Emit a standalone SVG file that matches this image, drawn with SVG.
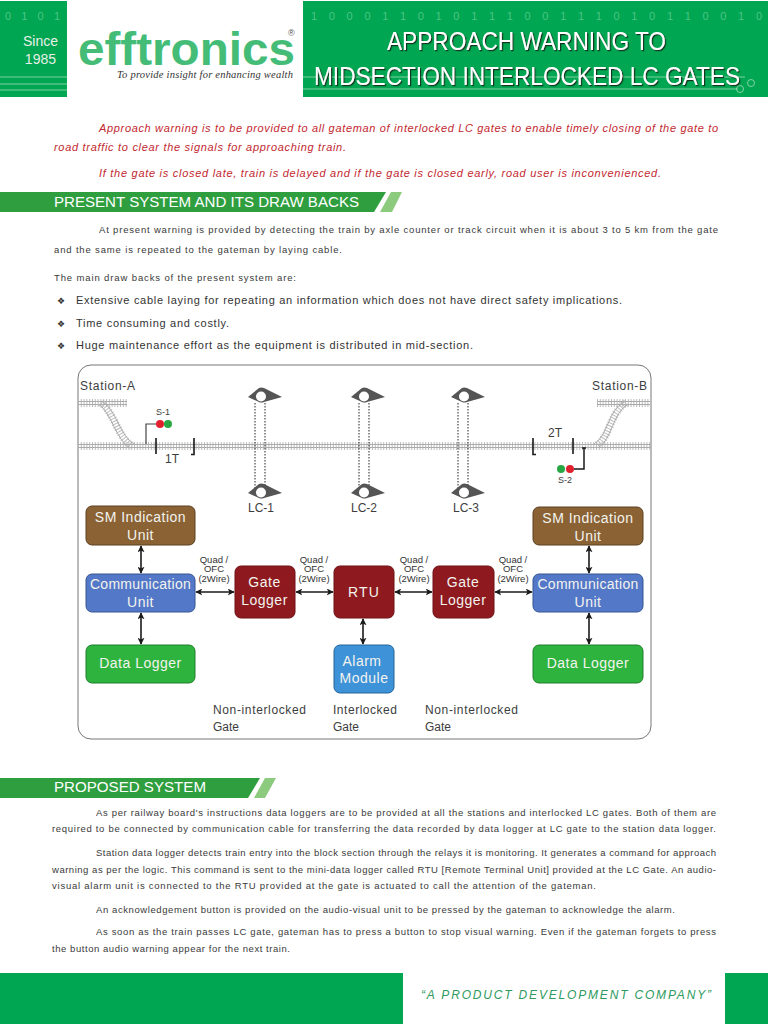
<svg xmlns="http://www.w3.org/2000/svg" width="768" height="1024" viewBox="0 0 768 1024">
<style>
text{font-family:"Liberation Sans",Arial,sans-serif}
.hd{fill:#00a651}
.bin{fill:#4cc486;font-size:11px}
.hl{stroke:#9fdcb8;stroke-width:.8;fill:none}
.title{fill:#fff;font-size:26px;filter:url(#sh)}
.red{fill:#c3272f;font-size:11px;font-style:italic}
.body{fill:#3a3a3a;font-size:9.5px}
.bul{fill:#333;font-size:11px}
.sec{fill:#fff;font-size:14px}
.bar{fill:#2f9e3f}
.stripe{fill:#8ccb7e}
.ties{stroke:#bcbcbc;stroke-width:8;stroke-dasharray:1 1.8;fill:none}
.rail{stroke:#ababab;stroke-width:1;fill:none}
.blk{stroke:#1a1a1a;stroke-width:1.6;fill:none}
.dot{stroke:#222;stroke-width:1;stroke-dasharray:1.5 1.5;fill:none}
.lbl{fill:#3d3d3d;font-size:12px}
.sm{fill:#3d3d3d;font-size:9px;text-anchor:middle}
.box{stroke-width:1}
.nt{fill:#f3f3ee;font-size:14px;text-anchor:middle;letter-spacing:.5px}
.q{fill:#333;font-size:9.5px;text-anchor:middle}
.conn{stroke:#1a1a1a;stroke-width:1.6;fill:none;marker-start:url(#ah);marker-end:url(#ah)}
.mark{fill:#555}
</style>
<defs>
<filter id="sh" x="-5%" y="-40%" width="110%" height="180%"><feDropShadow dx="1.2" dy="1.2" stdDeviation=".3" flood-color="#12351f"/></filter>
<pattern id="dots" width="2" height="2" patternUnits="userSpaceOnUse"><rect width="2" height="2" fill="#bfe9cf"/><circle cx="1" cy="1" r=".95" fill="#0fa850"/></pattern>
<marker id="ah" viewBox="0 0 10 10" refX="9" refY="5" markerWidth="7" markerHeight="7" markerUnits="userSpaceOnUse" orient="auto-start-reverse"><path d="M0 0L10 5L0 10L2.500 5Z" fill="#1a1a1a"/></marker>
<g id="lcm"><path class="mark" d="M-13 0L-2 -9Q0 -10 3 -9L21 0L3 5Q0 6 -2 5Z"/><circle cx="0" cy="-0.5" r="5" fill="#fff"/></g>
</defs>
<rect width="768" height="1024" fill="#fff"/>

<g id="header">
<rect class="hd" x="0" y="1" width="67" height="96"/>
<rect class="hd" x="303" y="1" width="465" height="96"/>
<text class="bin" x="5" y="20" textLength="55">0 1 0 1</text>
<text class="bin" x="311" y="20" textLength="451">1 0 0 0 1 1 0 1 0 1 1 1 0 0 1 1 1 0 1 0 1 1 0 0 1 0</text>
<path class="hl" d="M0 77H67M0 84H67M0 90H67M303 77H745M303 89H738"/>
<circle class="hl" cx="740" cy="89" r="3.500"/><circle class="hl" cx="751" cy="83" r="3.500"/>
<text x="58" y="46" fill="#e8efe8" font-size="14" text-anchor="end">Since</text>
<text x="56" y="64" fill="#e8efe8" font-size="14" text-anchor="end">1985</text>
<text x="78" y="65" font-size="46" font-weight="bold" fill="url(#dots)" textLength="217" lengthAdjust="spacingAndGlyphs">efftronics</text>
<text x="288" y="36" font-size="9" fill="#555">®</text>
<text x="117" y="78" font-size="10.500" fill="#333" font-style="italic" style="font-family:'Liberation Serif',serif" textLength="176">To provide insight for enhancing wealth</text>
<text class="title" x="387" y="50" textLength="279" lengthAdjust="spacingAndGlyphs">APPROACH WARNING TO</text>
<text class="title" x="314" y="85" textLength="426" lengthAdjust="spacingAndGlyphs">MIDSECTION INTERLOCKED LC GATES</text>
</g>

<g id="intro">
<text class="red" x="99" y="132" textLength="619">Approach warning is to be provided to all gateman of interlocked LC gates to enable timely closing of the gate to</text>
<text class="red" x="54" y="151" textLength="292">road traffic to clear the signals for approaching train.</text>
<text class="red" x="99" y="177" textLength="562">If the gate is closed late, train is delayed and if the gate is closed early, road user is inconvenienced.</text>
</g>

<g id="present-heading">
<path class="bar" d="M0 192H386L374 212H0Z"/>
<path class="stripe" d="M391 192H402L392 212H380Z"/>
<text class="sec" x="54" y="207" textLength="305" lengthAdjust="spacingAndGlyphs">PRESENT SYSTEM AND ITS DRAW BACKS</text>
</g>

<g id="present-text">
<text class="body" x="99" y="233" textLength="619">At present warning is provided by detecting the train by axle counter or track circuit when it is about 3 to 5 km from the gate</text>
<text class="body" x="54" y="253" textLength="288">and the same is repeated to the gateman by laying cable.</text>
<text class="body" x="54" y="281" textLength="242">The main draw backs of the present system are:</text>
<text class="bul" x="57" y="304" style="font-family:'DejaVu Sans',sans-serif;font-size:9px">❖</text>
<text class="bul" x="76" y="304" textLength="546">Extensive cable laying for repeating an information which does not have direct safety implications.</text>
<text class="bul" x="57" y="327" style="font-family:'DejaVu Sans',sans-serif;font-size:9px">❖</text>
<text class="bul" x="76" y="327" textLength="153">Time consuming and costly.</text>
<text class="bul" x="57" y="349" style="font-family:'DejaVu Sans',sans-serif;font-size:9px">❖</text>
<text class="bul" x="76" y="349" textLength="397">Huge maintenance effort as the equipment is distributed in mid-section.</text>
</g>

<rect id="frame" x="78" y="365" width="573" height="374" rx="13" fill="#fff" stroke="#777" stroke-width="1"/>

<g id="track">
<path class="ties" d="M78 446H651M78 403H127M597 403H650"/>
<path class="ties" d="M101 403C114 412 118 438 132 446M626 403C610 412 610 438 596 446"/>
<path class="rail" d="M78 444.500H651M78 447.500H651M78 401.500H127M78 404.500H127M597 401.500H650M597 404.500H650"/>
<path class="rail" d="M99 404C112 414 116 440 130 448M103 402C116 410 120 436 134 444M624 402C608 410 608 436 594 444M628 404C612 414 612 440 598 448"/>
<path class="blk" d="M156 438V454M194 438V454.500H191M533 438V454.500H536M573 438V454"/>
<path d="M146 444V424H157" fill="none" stroke="#444" stroke-width="1.200"/>
<path d="M574 469H584V448M582 448H586" fill="none" stroke="#1a1a1a" stroke-width="1.500"/>
<circle cx="160" cy="424" r="4" fill="#e1202e"/><circle cx="168" cy="424" r="4" fill="#27a844"/>
<circle cx="561" cy="469" r="4" fill="#27a844"/><circle cx="570" cy="469" r="4" fill="#e1202e"/>
<text class="lbl" x="80" y="390" textLength="55">Station-A</text>
<text class="lbl" x="592" y="390" textLength="55">Station-B</text>
<text class="sm" x="163" y="415">S-1</text>
<text class="sm" x="565" y="483">S-2</text>
<text class="lbl" x="172" y="463" text-anchor="middle">1T</text>
<text class="lbl" x="555" y="437" text-anchor="middle">2T</text>
</g>

<g id="lc-1"><path class="dot" d="M255 403V488M265 403V488"/><use href="#lcm" x="261" y="397"/><use href="#lcm" x="261" y="493"/><text class="lbl" x="261" y="512" text-anchor="middle">LC-1</text></g>
<g id="lc-2"><path class="dot" d="M359 403V488M369 403V488"/><use href="#lcm" x="364" y="397"/><use href="#lcm" x="364" y="493"/><text class="lbl" x="364" y="512" text-anchor="middle">LC-2</text></g>
<g id="lc-3"><path class="dot" d="M458 403V488M468 403V488"/><use href="#lcm" x="464" y="397"/><use href="#lcm" x="464" y="493"/><text class="lbl" x="466" y="512" text-anchor="middle">LC-3</text></g>

<g id="connectors">
<path class="conn" d="M141 546V573"/>
<path class="conn" d="M141 613V644"/>
<path class="conn" d="M196 592H234"/>
<path class="conn" d="M296 592H333"/>
<path class="conn" d="M363 619V644"/>
<path class="conn" d="M395 592H432"/>
<path class="conn" d="M495 592H532"/>
<path class="conn" d="M589 546V573"/>
<path class="conn" d="M589 613V644"/>
</g>

<g id="sm-left"><rect class="box" x="86" y="506" width="109" height="39" rx="6" fill="#8a6234" stroke="#5c4122"/><text class="nt" x="140.500" y="522">SM Indication</text><text class="nt" x="140.500" y="540">Unit</text></g>
<g id="comm-left"><rect class="box" x="86" y="574" width="109" height="38" rx="6" fill="#5478c8" stroke="#35548f"/><text class="nt" x="140.500" y="589" style="letter-spacing:.3px">Communication</text><text class="nt" x="140.500" y="607">Unit</text></g>
<g id="data-left"><rect class="box" x="86" y="645" width="109" height="38" rx="6" fill="#2fb33f" stroke="#1f7f2c"/><text class="nt" x="140.500" y="668">Data Logger</text></g>
<g id="gate-left"><rect class="box" x="235" y="566" width="60" height="52" rx="6" fill="#8e1a1f" stroke="#6d1115"/><text class="nt" x="264.500" y="587">Gate</text><text class="nt" x="264.500" y="605">Logger</text></g>
<g id="rtu"><rect class="box" x="334" y="566" width="60" height="52" rx="6" fill="#8e1a1f" stroke="#6d1115"/><text class="nt" x="364" y="597" style="letter-spacing:1.200px">RTU</text></g>
<g id="alarm"><rect class="box" x="334" y="645" width="60" height="48" rx="6" fill="#3d92d8" stroke="#27659a"/><text class="nt" x="362" y="666">Alarm</text><text class="nt" x="364" y="683">Module</text></g>
<g id="gate-right"><rect class="box" x="433" y="566" width="61" height="52" rx="6" fill="#8e1a1f" stroke="#6d1115"/><text class="nt" x="463" y="587">Gate</text><text class="nt" x="463" y="605">Logger</text></g>
<g id="sm-right"><rect class="box" x="533" y="507" width="110" height="38" rx="6" fill="#8a6234" stroke="#5c4122"/><text class="nt" x="588" y="523">SM Indication</text><text class="nt" x="588" y="541">Unit</text></g>
<g id="comm-right"><rect class="box" x="533" y="574" width="110" height="38" rx="6" fill="#5478c8" stroke="#35548f"/><text class="nt" x="588" y="589" style="letter-spacing:.3px">Communication</text><text class="nt" x="588" y="607">Unit</text></g>
<g id="data-right"><rect class="box" x="533" y="645" width="110" height="38" rx="6" fill="#2fb33f" stroke="#1f7f2c"/><text class="nt" x="588" y="668">Data Logger</text></g>

<g id="link-labels">
<text class="q" x="214" y="563">Quad /</text><text class="q" x="214" y="572">OFC</text><text class="q" x="214" y="582">(2Wire)</text>
<text class="q" x="314" y="563">Quad /</text><text class="q" x="314" y="572">OFC</text><text class="q" x="314" y="582">(2Wire)</text>
<text class="q" x="414" y="563">Quad /</text><text class="q" x="414" y="572">OFC</text><text class="q" x="414" y="582">(2Wire)</text>
<text class="q" x="513" y="563">Quad /</text><text class="q" x="513" y="572">OFC</text><text class="q" x="513" y="582">(2Wire)</text>
</g>

<g id="gate-types">
<text class="lbl" x="213" y="714" textLength="93">Non-interlocked</text><text class="lbl" x="213" y="731">Gate</text>
<text class="lbl" x="333" y="714" textLength="64">Interlocked</text><text class="lbl" x="333" y="731">Gate</text>
<text class="lbl" x="425" y="714" textLength="93">Non-interlocked</text><text class="lbl" x="425" y="731">Gate</text>
</g>

<g id="proposed-heading">
<path class="bar" d="M0 778H260L248 798H0Z"/>
<path class="stripe" d="M265 778H276L265 798H254Z"/>
<text class="sec" x="54" y="792" textLength="152" lengthAdjust="spacingAndGlyphs">PROPOSED SYSTEM</text>
</g>

<g id="proposed-text">
<text class="body" x="96" y="816" textLength="620">As per railway board's instructions data loggers are to be provided at all the stations and interlocked LC gates. Both of them are</text>
<text class="body" x="52" y="832" textLength="664">required to be connected by communication cable for transferring the data recorded by data logger at LC gate to the station data logger.</text>
<text class="body" x="96" y="856" textLength="620">Station data logger detects train entry into the block section through the relays it is monitoring. It generates a command for approach</text>
<text class="body" x="52" y="873" textLength="664">warning as per the logic. This command is sent to the mini-data logger called RTU [Remote Terminal Unit] provided at the LC Gate. An audio-</text>
<text class="body" x="52" y="889" textLength="544">visual alarm unit is connected to the RTU provided at the gate is actuated to call the attention of the gateman.</text>
<text class="body" x="96" y="913" textLength="579">An acknowledgement button is provided on the audio-visual unit to be pressed by the gateman to acknowledge the alarm.</text>
<text class="body" x="96" y="935" textLength="620">As soon as the train passes LC gate, gateman has to press a button to stop visual warning. Even if the gateman forgets to press</text>
<text class="body" x="52" y="952" textLength="238">the button audio warning appear for the next train.</text>
</g>

<g id="footer">
<rect class="hd" x="0" y="973" width="403" height="51"/>
<rect class="hd" x="725" y="973" width="43" height="51"/>
<text x="421" y="999" font-size="12" font-style="italic" fill="#2e9a5e" textLength="290">“A PRODUCT DEVELOPMENT COMPANY”</text>
</g>
</svg>
